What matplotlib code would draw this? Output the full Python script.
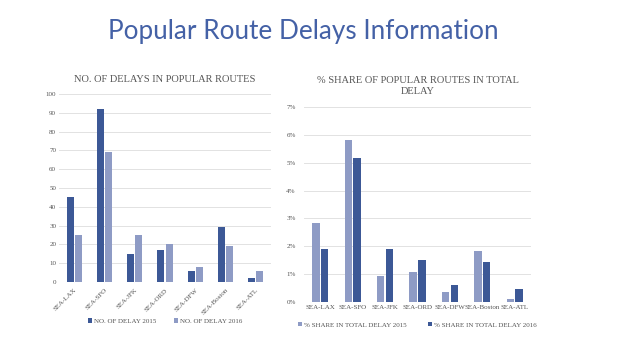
import matplotlib.pyplot as plt
import numpy as np

routes = ["SEA-LAX", "SEA-SFO", "SEA-JFK", "SEA-ORD", "SEA-DFW", "SEA-Boston", "SEA-ATL"]

delays_2015 = [45, 92, 15, 17, 6, 29, 2]
delays_2016 = [25, 69, 25, 20, 8, 19, 6]

share_2015 = [2.83, 5.83, 0.94, 1.07, 0.37, 1.83, 0.12]
share_2016 = [1.89, 5.18, 1.89, 1.50, 0.60, 1.42, 0.45]

DARK = "#3C5896"
LIGHT = "#8E9BC5"
TEXT = "#555555"
GRID = "#e2e2e2"
SERIF = "Liberation Serif"


def style_axis(ax):
    for spine in ax.spines.values():
        spine.set_visible(False)
    ax.grid(axis="y", color=GRID, linewidth=0.7)
    ax.set_axisbelow(True)
    ax.tick_params(axis="both", length=0, labelsize=5, labelcolor=TEXT, pad=2)
    for lbl in ax.get_xticklabels() + ax.get_yticklabels():
        lbl.set_fontfamily(SERIF)


def main() -> None:
    fig = plt.figure(figsize=(6.38, 3.59), dpi=100)
    fig.patch.set_facecolor("white")

    fig.text(0.475, 0.913, "Popular Route Delays Information", ha="center", va="center",
             fontsize=18.8, color="#4461A6", family="Lato")

    x = np.arange(len(routes))
    w = 0.23

    # left chart: number of delays
    ax1 = fig.add_axes([59 / 638, 1 - 282 / 359, 212 / 638, 188 / 359])
    ax1.bar(x - w / 2 - 0.02, delays_2015, w, color=DARK, label="NO. OF DELAY 2015")
    ax1.bar(x + w / 2 + 0.02, delays_2016, w, color=LIGHT, label="NO. OF DELAY 2016")
    ax1.set_xlim(-0.5, len(routes) - 0.5)
    ax1.set_ylim(0, 100)
    ax1.set_yticks(range(0, 101, 10))
    ax1.set_xticks(x, routes, rotation=45, ha="right", rotation_mode="anchor")
    style_axis(ax1)
    ax1.tick_params(axis="x", pad=4)
    ax1.set_title("NO. OF DELAYS IN POPULAR ROUTES", fontsize=7.5, color=TEXT,
                  family=SERIF, pad=9)
    ax1.legend(loc="upper center", bbox_to_anchor=(0.5, -0.16), ncol=2, frameon=False,
               prop={"family": SERIF, "size": 5}, labelcolor=TEXT, handlelength=0.6,
               handleheight=0.6, columnspacing=2.5, handletextpad=0.3)

    # right chart: % share
    ax2 = fig.add_axes([304 / 638, 1 - 302 / 359, 227 / 638, 195 / 359])
    ax2.bar(x - w / 2 - 0.02, share_2015, w, color=LIGHT, label="% SHARE IN TOTAL DELAY 2015")
    ax2.bar(x + w / 2 + 0.02, share_2016, w, color=DARK, label="% SHARE IN TOTAL DELAY 2016")
    ax2.set_xlim(-0.5, len(routes) - 0.5)
    ax2.set_ylim(0, 7)
    ax2.set_yticks(range(0, 8), [f"{v}%" for v in range(0, 8)])
    ax2.set_xticks(x, routes)
    style_axis(ax2)
    ax2.tick_params(axis="y", pad=6)
    ax2.set_title("% SHARE OF POPULAR ROUTES IN TOTAL\nDELAY", fontsize=7.5, color=TEXT,
                  family=SERIF, pad=9, linespacing=1.3)
    ax2.legend(loc="upper center", bbox_to_anchor=(0.5, -0.07), ncol=2, frameon=False,
               prop={"family": SERIF, "size": 5}, labelcolor=TEXT, handlelength=0.6,
               handleheight=0.6, columnspacing=3.0, handletextpad=0.3)

    fig.savefig("out.png", dpi=100, facecolor="white")
    plt.close(fig)


if __name__ == "__main__":
    main()
